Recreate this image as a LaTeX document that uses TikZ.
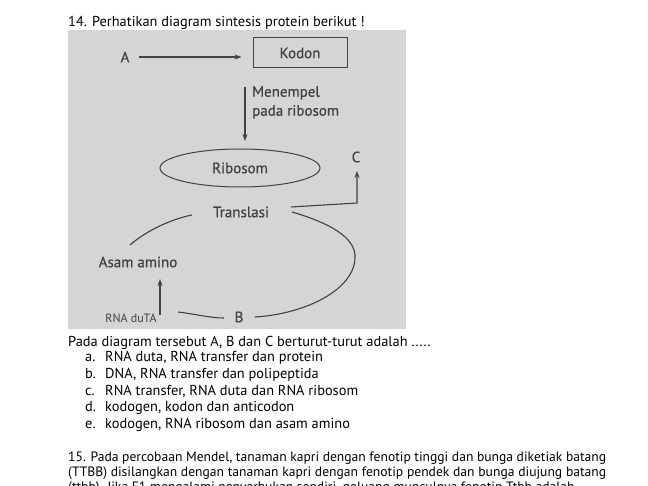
\documentclass[tikz,border=0pt]{standalone}
\usepackage{fontspec}
\setmainfont{PT Sans}
\newfontfamily\diagfont[FakeBold=0.6]{PT Sans}
\usetikzlibrary{arrows.meta,shapes.geometric}
\definecolor{panel}{RGB}{214,212,212}
\definecolor{ink}{RGB}{66,66,66}
\tikzset{
  pagetext/.style={anchor=base west, inner sep=0pt, font=\fontsize{14.4}{17}\selectfont, text=black},
  qtext/.style={pagetext, font=\fontsize{13.6}{16}\selectfont},
  lbl/.style={inner sep=1pt, text=ink, font=\diagfont\fontsize{15}{18}\selectfont},
  conn/.style={draw=ink, line width=1.1pt},
  arr/.style={conn, -{Stealth[length=7pt,width=5pt]}},
}
\begin{document}
\begin{tikzpicture}[x=1pt,y=-1pt]
\useasboundingbox (0,0) rectangle (648,486);
\fill[white] (0,0) rectangle (648,486);
\fill[panel] (68,30) rectangle (406,329);

% diagram
\node[lbl] (A) at (125,57) {A};
\node[lbl, draw=ink, line width=1pt, minimum width=94pt, minimum height=30pt] (kodon) at (300,53) {Kodon};
\draw[arr, shorten <=8pt, shorten >=11pt] (A.east) -- (A.east -| kodon.west);

\coordinate (m1) at (245,87);
\coordinate (m2) at (245,141);
\draw[arr] (m1) -- (m2);
\node[lbl, anchor=north west, inner sep=0pt, align=left, font=\diagfont\fontsize{15}{19}\selectfont] (menempel) at (252,86) {Menempel\\pada ribosom};

\node[lbl, draw=ink, line width=1pt, ellipse, minimum width=160pt, minimum height=38pt, inner sep=0pt] (ribosom) at (240,168) {Ribosom};

\node[lbl] (C) at (356,157) {C};
\node[lbl] (trans) at (241,212) {Translasi};
\coordinate (t1) at (291,207);
\coordinate (t2) at (357,203);
\coordinate (t3) at (357,171);
\draw[arr] (t1) -- (t2) -- (t3);

\coordinate (l1) at (192,215);
\coordinate (l2) at (130,245);
\draw[conn] (l1) .. controls (168,220) and (145,232) .. (l2);

\coordinate (r1) at (292,212);
\coordinate (rm) at (355,258);
\coordinate (r2) at (255,317);
\draw[conn] (r1) .. controls (340,226) and (356,242) .. (rm) .. controls (354,290) and (305,314) .. (r2);

\node[lbl] (asam) at (138,262) {Asam amino};
\coordinate (u1) at (160,315);
\coordinate (u2) at (160,279);
\draw[arr] (u1) -- (u2);
\node[lbl, font=\fontsize{12}{14}\selectfont] (rna) at (131,318) {RNA duTA};
\coordinate (b1) at (178,312);
\coordinate (b2) at (224,318);
\draw[conn] (b1) .. controls (195,314) and (210,318) .. (b2);
\node[lbl] (B) at (239,317) {B};

% page text
\node[pagetext] (title) at (68,27) {14. Perhatikan diagram sintesis protein berikut !};
\node[pagetext] (q) at (68,346) {Pada diagram tersebut A, B dan C berturut-turut adalah .....};
\node[pagetext] (la) at (85,362) {a.};
\node[pagetext] (oa) at (105,362) {RNA duta, RNA transfer dan protein};
\node[pagetext] (lb) at (85,378.5) {b.};
\node[pagetext] (ob) at (105,378.5) {DNA, RNA transfer dan polipeptida};
\node[pagetext] (lc) at (85,395) {c.};
\node[pagetext] (oc) at (105,395) {RNA transfer, RNA duta dan RNA ribosom};
\node[pagetext] (ld) at (85,411.5) {d.};
\node[pagetext] (od) at (105,411.5) {kodogen, kodon dan anticodon};
\node[pagetext] (le) at (85,428) {e.};
\node[pagetext] (oe) at (105,428) {kodogen, RNA ribosom dan asam amino};
\node[qtext] (q15a) at (68,461) {\makebox[538pt][s]{15. Pada percobaan Mendel, tanaman kapri dengan fenotip tinggi dan bunga diketiak batang}};
\node[qtext] (q15b) at (68,476) {\makebox[538pt][s]{(TTBB) disilangkan dengan tanaman kapri dengan fenotip pendek dan bunga diujung batang}};
\node[qtext] (q15c) at (68,491) {(ttbb). Jika F1 mengalami penyerbukan sendiri, peluang munculnya fenotip Ttbb adalah ...};
\end{tikzpicture}
\end{document}
